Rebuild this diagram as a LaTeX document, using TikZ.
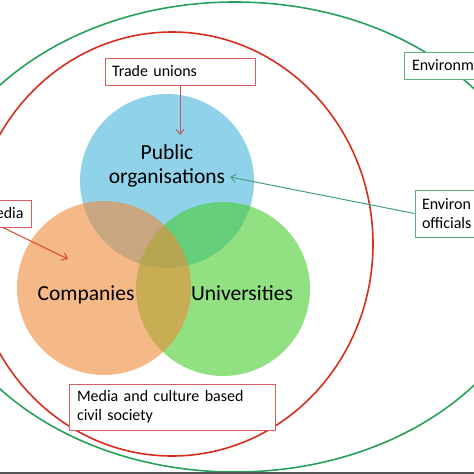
\documentclass[tikz,border=0pt]{standalone}
\usepackage{fontspec}
\setmainfont{Carlito}
\usetikzlibrary{arrows.meta}
\definecolor{ringGreen}{RGB}{40,160,90}
\definecolor{ringRed}{RGB}{215,45,30}
\definecolor{publicBlue}{RGB}{68,180,220}
\definecolor{uniGreen}{RGB}{72,205,47}
\definecolor{compOrange}{RGB}{238,138,55}
\definecolor{tagRed}{RGB}{212,95,95}
\definecolor{tagGreen}{RGB}{95,175,125}
\definecolor{arrRed}{RGB}{215,70,55}
\definecolor{arrPink}{RGB}{190,85,105}
\definecolor{arrTeal}{RGB}{65,160,130}
\definecolor{frameGray}{RGB}{85,85,85}

\begin{document}
\begin{tikzpicture}[
    x=1pt, y=-1pt,
    ring/.style={line width=1.6pt},
    venn/.style={circle, draw=none, fill opacity=0.6, minimum size=174pt, inner sep=0pt},
    big/.style={font=\fontsize{21.5}{24}\selectfont, align=center, inner sep=0pt},
    tagbox/.style={rectangle, draw=#1, fill=white, line width=1pt, align=left,
      inner xsep=7pt, inner ysep=0pt, font=\fontsize{16}{19}\selectfont},
    arr/.style={-{Straight Barb[length=5pt, width=8pt]}, line width=1pt, #1}
  ]
  \useasboundingbox (0,0) rectangle (474,474);

  \draw[ring, ringGreen] (235,237) ellipse [x radius=308, y radius=235];
  \draw[ring, ringRed] (172,244) ellipse [x radius=201, y radius=212];

  \node[venn, fill=publicBlue] (pub) at (167,181) {};
  \node[venn, fill=uniGreen] (uni) at (223,289) {};
  \node[venn, fill=compOrange] (comp) at (104,288) {};

  \node[big] (publbl) at (167,166) {Public\\organisations};
  \node[big, anchor=base] (complbl) at (86,300) {Companies};
  \node[big, anchor=base] (unilbl) at (242,300) {Universities};

  \node[tagbox=tagRed, text width=136pt, minimum height=27pt] (trade) at (180,71.5) {Trade unions};
  \node[tagbox=tagRed, anchor=east, inner xsep=8pt, minimum height=27pt] (media) at (32,213.5) {Media};
  \node[tagbox=tagRed, text width=190pt, inner xsep=8pt, minimum height=46pt] (civil) at (172,407) {Media and culture based\\civil society};
  \node[tagbox=tagGreen, text width=100pt, inner xsep=8pt, minimum height=27pt] (envtop) at (462,65.5) {Environm};
  \node[tagbox=tagGreen, text width=100pt, minimum height=47pt] (envoff) at (472,213.5) {Environ\\officials};

  \coordinate (tradeEnd) at (180,135);
  \coordinate (mediaEnd) at (68,259);
  \coordinate (envEnd) at (230,177);

  \draw[arr=arrPink] (trade) -- (tradeEnd);
  \draw[arr=arrRed] (media.south) -- (mediaEnd);
  \draw[arr=arrTeal] (envoff.west) -- (envEnd);

  \fill[frameGray] (0,472) rectangle (474,474);
\end{tikzpicture}
\end{document}
